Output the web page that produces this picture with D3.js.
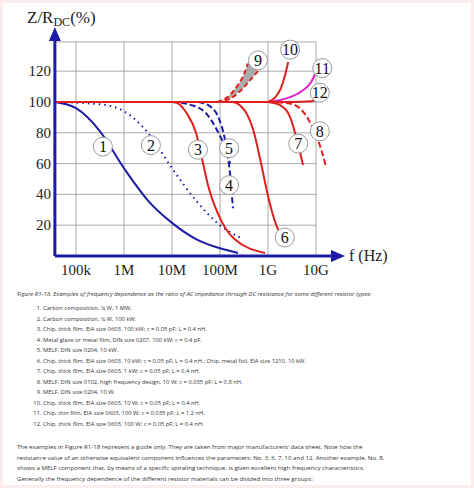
<!DOCTYPE html>
<html>
<head>
<meta charset="utf-8" />
<script src="https://cdn.jsdelivr.net/npm/d3@7"></script>
<style>
html, body { margin: 0; padding: 0; background: #fcecec; }
#page { position: absolute; left: 3px; top: 3px; width: 468px; height: 482px; background: #fff; }
svg { position: absolute; left: 0; top: 0; }
.txt { position: absolute; left: 0; font-family: "Open Sans", sans-serif; color: #333; }
.cap { top: 287px; left: 14px; font-size: 6px; font-style: italic; white-space: nowrap; }
ol { position: absolute; top: 300px; left: 28px; margin: 0; padding-left: 12px; font-family: "Open Sans", sans-serif; font-size: 5.8px; line-height: 10.5px; color: #333; }
.para { top: 439px; left: 14px; width: 375px; font-size: 6.1px; line-height: 10.5px; }
</style>
</head>
<body>
<div id="page">
<div id="chart"></div>
<div class="txt cap">Figure R1-18. Examples of frequency dependence as the ratio of AC impedance through DC resistance for some different resistor types:</div>
<ol id="legend"></ol>
<div class="txt para">The examples in Figure R1-18 represent a guide only. They are taken from major manufacturers' data sheet. Note how the resistance value of an otherwise equivalent component influences the parameters: No. 3, 6, 7, 10 and 12. Another example, No. 8, shows a MELF component that, by means of a specific spiraling technique, is given excellent high frequency characteristics. Generally the frequency dependence of the different resistor materials can be divided into three groups:</div>
</div>
<script>
// x values are log10(f in Hz), y values are Z/Rdc in %
var xTicks = [5, 6, 7, 8, 9, 10];
var xTickLabels = ['100k', '1M', '10M', '100M', '1G', '10G'];
var yTicks = [20, 40, 60, 80, 100, 120];

var curve1 = [[4.56,100],[5,96],[5.5,81],[6,57],[6.5,36],[7,21.5],[7.5,11],[8,5],[8.375,2]];
var curve2 = [[4.56,100],[5.5,98.5],[6,94],[6.5,80],[7,57],[7.5,36],[8,20],[8.42,12]];
var curve3 = [[4.56,100],[7.04,100],[7.3,93],[7.5,80],[7.62,64],[7.75,46],[7.95,28],[8.3,11],[8.94,2]];
var curve4 = [[7.55,100],[7.8,97],[7.98,89],[8.1,76],[8.2,56],[8.27,31]];
var curve5 = [[7.0,100],[7.4,98],[7.7,93],[7.95,81],[8.1,71],[8.21,60]];
var curve6 = [[4.56,100],[8.25,100],[8.5,95],[8.7,81],[8.85,61],[9.0,39],[9.1,27],[9.21,17]];
var curve7 = [[9.0,100],[9.25,98],[9.45,91],[9.58,78],[9.67,67],[9.73,59]];
var curve8 = [[9.0,100],[9.45,99],[9.75,93],[9.95,82],[10.12,68],[10.2,59]];
var curve9lo = [[7.94,100],[8.2,102],[8.45,108],[8.65,115],[8.79,120]];
var curve9hi = [[7.94,100],[8.15,103],[8.35,110],[8.5,118],[8.58,125]];
var curve10 = [[9.0,100],[9.15,103],[9.27,109],[9.36,118],[9.42,126]];
var curve11 = [[9.0,100],[9.4,102.5],[9.7,107],[9.9,113],[9.98,118]];
var curve12 = [[4.56,100],[9.5,100],[9.9,100.5],[10.02,102]];
var labelNames = ['1','2','3','4','5','6','7','8','9','10','11','12'];
var labelPos = [[5.56,71],[6.56,72],[7.54,69],[8.19,46],[8.19,70],[9.35,12],[9.63,73],[10.08,81],[8.79,127],[9.46,134],[10.13,122],[10.08,106]];
var legendItems = [
 'Carbon composition, ¼ W, 1 MW.',
 'Carbon composition, ¼ W, 100 kW.',
 'Chip, thick film, EIA size 0603, 100 kW; c = 0.05 pF; L = 0.4 nH.',
 'Metal glaze or metal film, DIN size 0207, 100 kW; c = 0.4 pF.',
 'MELF, DIN size 0204, 10 kW.',
 'Chip, thick film, EIA size 0603, 10 kW; c = 0.05 pF; L = 0.4 nH.; Chip, metal foil, EIA size 1210, 10 kW.',
 'Chip, thick film, EIA size 0603, 1 kW; c = 0.05 pF; L = 0.4 nH.',
 'MELF, DIN size 0102, high frequency design, 10 W;  c = 0.035 pF; L = 0.8 nH.',
 'MELF, DIN size 0204, 10 W.',
 'Chip, thick film, EIA size 0603, 10 W; c = 0.05 pF; L = 0.4 nH.',
 'Chip, thin film, EIA size 0603, 100 W; c = 0.035 pF; L = 1.2 nH.',
 'Chip, thick film, EIA size 0603, 100 W; c = 0.05 pF; L = 0.4 nH.'
];

d3.select('#legend').selectAll('li').data(legendItems).enter().append('li').text(function(d) { return d; });

var svg = d3.select('#chart').append('svg').attr('width', 468).attr('height', 285);
var x = d3.scaleLinear().domain([5, 10]).range([73, 313]);
var y = d3.scaleLinear().domain([0, 100]).range([253, 99]);
var blue = '#1c1ca8', red = '#e0201c', grid = '#888';
var serif = 'Liberation Serif, serif';

// grid
svg.selectAll('.vg').data(xTicks).enter().append('line')
  .attr('x1', x).attr('x2', x).attr('y1', y(139)).attr('y2', y(0))
  .attr('stroke', grid).attr('stroke-width', 0.7);
svg.selectAll('.hg').data(yTicks.concat([100])).enter().append('line')
  .attr('x1', x(4.56)).attr('x2', x(10)).attr('y1', y).attr('y2', y)
  .attr('stroke', grid).attr('stroke-width', 0.7);
svg.append('line').attr('x1', x(4.56)).attr('x2', x(10)).attr('y1', y(139)).attr('y2', y(139))
  .attr('stroke', grid).attr('stroke-width', 0.7);

// tick labels
svg.selectAll('.xl').data(xTicks).enter().append('text')
  .attr('x', x).attr('y', 272).attr('text-anchor', 'middle')
  .attr('font-family', serif).attr('font-size', 15).attr('fill', '#222')
  .text(function(d, i) { return xTickLabels[i]; });
svg.selectAll('.yl').data(yTicks).enter().append('text')
  .attr('x', 48).attr('y', function(d) { return y(d) + 5; }).attr('text-anchor', 'end')
  .attr('font-family', serif).attr('font-size', 15).attr('fill', '#222')
  .text(function(d) { return d; });

var line = d3.line().x(function(d) { return x(d[0]); }).y(function(d) { return y(d[1]); }).curve(d3.curveMonotoneX);

// curve 9 band
svg.append('path').attr('d', line(curve9hi) + 'L' + curve9lo.slice().reverse().map(function(d) { return x(d[0]) + ',' + y(d[1]); }).join('L') + 'Z')
  .attr('fill', '#aaa');
function draw(data, color, dash, w) {
  svg.append('path').attr('d', line(data)).attr('fill', 'none').attr('stroke', color)
    .attr('stroke-width', w || 2).attr('stroke-dasharray', dash || null);
}
draw(curve1, blue);
draw(curve2, blue, '1.5,4');
draw(curve4, blue, '6,3');
draw(curve5, blue, '6,3');
draw(curve9lo, red, '5,3');
draw(curve9hi, red, '5,3');
draw(curve11, '#e020c8');
draw(curve12, red);
draw(curve3, red);
draw(curve6, red);
draw(curve7, red);
draw(curve8, red, '6,3');
draw(curve10, red);

// axes
svg.append('line').attr('x1', x(4.56)).attr('x2', x(4.56)).attr('y1', y(0)).attr('y2', 36).attr('stroke', blue).attr('stroke-width', 3);
svg.append('path').attr('d', 'M' + (x(4.56) - 6) + ',38L' + x(4.56) + ',24L' + (x(4.56) + 6) + ',38Z').attr('fill', blue);
svg.append('line').attr('x1', x(4.56)).attr('x2', 330).attr('y1', y(0)).attr('y2', y(0)).attr('stroke', blue).attr('stroke-width', 3);
svg.append('path').attr('d', 'M328,' + (y(0) - 6) + 'L342,' + y(0) + 'L328,' + (y(0) + 6) + 'Z').attr('fill', blue);
var ttl = svg.append('text').attr('x', 24).attr('y', 20).attr('font-family', serif).attr('font-size', 17).attr('fill', '#222');
ttl.append('tspan').text('Z/R');
ttl.append('tspan').attr('font-size', 12).attr('dy', 3).text('DC');
ttl.append('tspan').attr('dy', -3).text('(%)');
svg.append('text').attr('x', 346).attr('y', y(0) + 5).attr('font-family', serif).attr('font-size', 16).attr('fill', '#222').text('f (Hz)');

// number labels
var lg = svg.selectAll('.lab').data(labelPos).enter().append('g')
  .attr('transform', function(d) { return 'translate(' + x(d[0]) + ',' + y(d[1]) + ')'; });
lg.append('circle').attr('r', 9.5).attr('fill', '#fff').attr('stroke', '#999').attr('stroke-width', 1);
lg.append('text').attr('text-anchor', 'middle').attr('y', 5.5).attr('font-family', serif)
  .attr('font-size', 16).attr('fill', '#111').text(function(d, i) { return labelNames[i]; });
</script>
</body>
</html>
